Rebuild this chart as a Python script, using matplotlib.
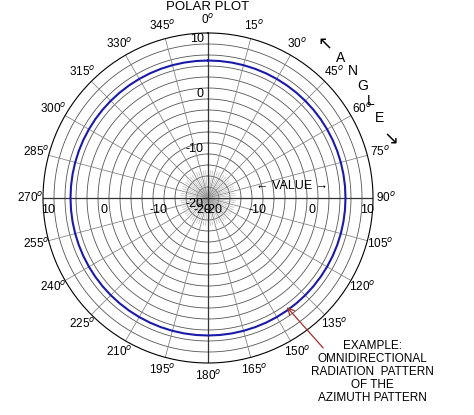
import matplotlib
matplotlib.use("Agg")
import matplotlib.pyplot as plt
import numpy as np

plt.rcParams["font.family"] = ["Liberation Sans", "DejaVu Sans"]

# data: omnidirectional pattern, value vs angle
pattern_deg = np.arange(0, 361, 5)
pattern_val = [5.0] * len(pattern_deg)
r_min, r_max = -20, 10
ring_step = 2
value_labels = [10, 0, -10, -20]
angle_ticks = list(range(0, 360, 15))

W, H = 474, 415
fig = plt.figure(figsize=(W / 100, H / 100), dpi=100)
fig.patch.set_facecolor("white")
cx, cy, Rx, Ry = 208, 198, 172, 165
ax = fig.add_axes([(cx - Rx) / W, (H - cy - Ry) / H, 2 * Rx / W, 2 * Ry / H], projection="polar")
ax.set_theta_zero_location("N")
ax.set_theta_direction(-1)
ax.set_ylim(r_min, r_max)
ax.set_xticks([])
ax.set_yticks([])
ax.grid(False)
ax.spines["polar"].set_linewidth(0.8)

th = np.linspace(0, 2 * np.pi, 400)
for r in range(r_min + ring_step, r_max, ring_step):
    ax.plot(th, [r] * len(th), color="#555555", lw=0.6, zorder=1)
for d in range(0, 360, 5):
    if d % 15 == 0:
        ax.plot([np.radians(d)] * 2, [r_min, r_max], color="#888888", lw=0.6, zorder=1)
    else:
        ax.plot([np.radians(d)] * 2, [r_min, -15], color="#aaaaaa", lw=0.4, zorder=1)
# main axes
for d in (0, 90, 180, 270):
    ax.plot([np.radians(d)] * 2, [r_min, r_max], color="#333333", lw=0.9, zorder=2)

ax.plot(np.radians(pattern_deg), pattern_val, color="#1a1aa8", lw=1.5, zorder=3)

# value labels
off = matplotlib.transforms.ScaledTranslation
for v in value_labels:
    ax.text(0, v, str(v), ha="right", va="center", fontsize=9,
            transform=ax.transData + off(-3 / 72, -4 / 72, fig.dpi_scale_trans))
    for d in (90, 270):
        ax.text(np.radians(d), v, str(v), ha="center", va="top", fontsize=9,
                transform=ax.transData + off(-4 / 72 if d == 90 else 4 / 72, -4 / 72, fig.dpi_scale_trans))

# angle labels
for d in angle_ticks:
    ax.text(np.radians(d), r_max + 2.4, f"{d}$^o$", ha="center", va="center", fontsize=8.5, clip_on=False)

fig.text(cx / W, 1 - 7 / H, "POLAR PLOT", ha="center", va="center", fontsize=9.5)
fig.text(292 / W, 1 - 186 / H, "\u2190 VALUE \u2192", ha="center", va="center", fontsize=9)

for ch, x, y in (("\u2196", 325, 44), ("A", 341, 58), ("N", 353, 71), ("G", 363, 86),
                 ("L", 371, 101), ("E", 380, 118), ("\u2198", 391, 140)):
    fig.text(x / W, 1 - y / H, ch, ha="center", va="center", fontsize=10 if ch in "ANGLE" else 13,
             family=["DejaVu Sans"] if ch not in "ANGLE" else None)

fig.text(372 / W, 1 - 372 / H,
         "EXAMPLE:\nOMNIDIRECTIONAL\nRADIATION  PATTERN\nOF THE\nAZIMUTH PATTERN",
         ha="center", va="center", fontsize=8.5, linespacing=1.1)
fig.add_artist(matplotlib.patches.FancyArrowPatch(
    (325 / W, 1 - 350 / H), (285 / W, 1 - 305 / H), transform=fig.transFigure,
    arrowstyle="->", mutation_scale=12, color="#a03030", lw=0.9))

fig.savefig("out.png", dpi=100)
